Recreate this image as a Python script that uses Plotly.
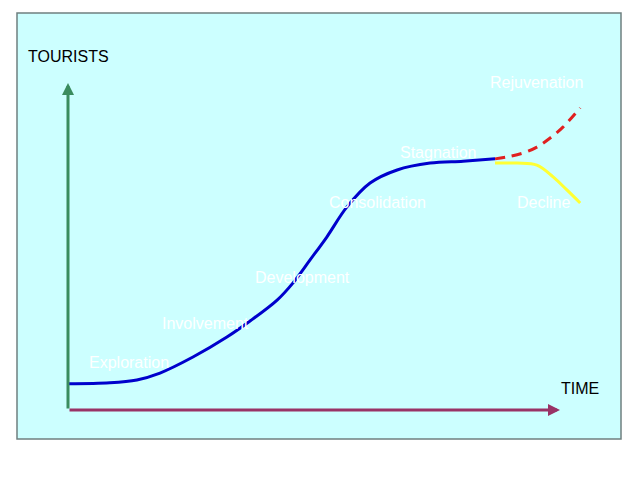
import plotly.graph_objs as go

# Butler tourism area life cycle
# time and tourist numbers in arbitrary units (axes run 0..10)

main_time = [0.00, 0.85, 1.40, 1.87, 2.54, 3.23, 3.70, 4.25, 4.57, 4.92,
             5.26, 5.67, 6.14, 6.69, 7.36, 8.03, 8.68]
main_tourists = [0.80, 0.83, 0.92, 1.13, 1.62, 2.23, 2.72, 3.36, 3.88, 4.59,
                 5.29, 6.21, 6.94, 7.34, 7.55, 7.61, 7.68]

rejuv_time = [8.68, 8.92, 9.25, 9.53, 9.80, 10.06, 10.41]
rejuv_tourists = [7.68, 7.74, 7.86, 8.04, 8.32, 8.65, 9.24]

decline_time = [8.68, 9.13, 9.53, 9.86, 10.14, 10.41]
decline_tourists = [7.55, 7.55, 7.49, 7.13, 6.73, 6.33]

stage_names = ['Exploration', 'Involvement', 'Development', 'Consolidation',
               'Stagnation', 'Decline', 'Rejuvenation']
stage_x = [1.23, 2.80, 4.76, 6.30, 7.54, 9.67, 9.53]
stage_y = [1.44, 2.66, 4.04, 6.36, 7.86, 6.36, 10.03]

axis_len = 10

W, H = 638, 478
# the html page puts the figure 8px in from the top left corner
off = 8
# pixels per unit on each axis, and where the origin sits on the page
px_x, px_y = 49.2, 32.7
org_x, org_y = 68, 410

fig = go.Figure()

fig.add_trace(go.Scatter(x=main_time, y=main_tourists, mode='lines',
                         line=dict(color='#0000cc', width=3, shape='spline'),
                         hoverinfo='skip'))
fig.add_trace(go.Scatter(x=rejuv_time, y=rejuv_tourists, mode='lines',
                         line=dict(color='#e02020', width=3, shape='spline',
                                   dash='10px,7px'),
                         hoverinfo='skip'))
fig.add_trace(go.Scatter(x=decline_time, y=decline_tourists, mode='lines',
                         line=dict(color='#ffff33', width=3, shape='spline'),
                         hoverinfo='skip'))

# light cyan panel
fig.add_shape(type='rect', xref='paper', yref='paper',
              x0=(17 - off) / W, x1=(621 - off) / W,
              y0=1 - (439 - off) / H, y1=1 - (13 - off) / H,
              fillcolor='#ccffff', line=dict(color='#6f8080', width=1.5),
              layer='below')

font = dict(family='Liberation Sans, Arial, sans-serif', size=16)

# axes drawn as arrows
fig.add_annotation(x=0, y=axis_len, ax=0, ay=0, xref='x', yref='y',
                   axref='x', ayref='y', text='', showarrow=True,
                   arrowhead=2, arrowsize=0.8, arrowwidth=3,
                   arrowcolor='#3a8c5e')
fig.add_annotation(x=axis_len, y=0, ax=0, ay=0, xref='x', yref='y',
                   axref='x', ayref='y', text='', showarrow=True,
                   arrowhead=2, arrowsize=0.8, arrowwidth=3,
                   arrowcolor='#993366')

for name, x, y in zip(stage_names, stage_x, stage_y):
    fig.add_annotation(x=x, y=y, text=name, showarrow=False,
                       font=dict(font, color='white'))

fig.add_annotation(x=0.02, y=10.80, text='TOURISTS', showarrow=False,
                   font=dict(font, color='black'))
fig.add_annotation(x=10.41, y=0.67, text='TIME', showarrow=False,
                   font=dict(font, color='black'))

fig.update_layout(width=W, height=H, margin=dict(l=0, r=0, t=0, b=0),
                  paper_bgcolor='white', plot_bgcolor='rgba(0,0,0,0)',
                  showlegend=False,
                  xaxis=dict(range=[(off - org_x) / px_x,
                                    (off + W - org_x) / px_x],
                             visible=False, fixedrange=True),
                  yaxis=dict(range=[(org_y - off - H) / px_y,
                                    (org_y - off) / px_y],
                             visible=False, fixedrange=True))

fig.write_html('out.html')
